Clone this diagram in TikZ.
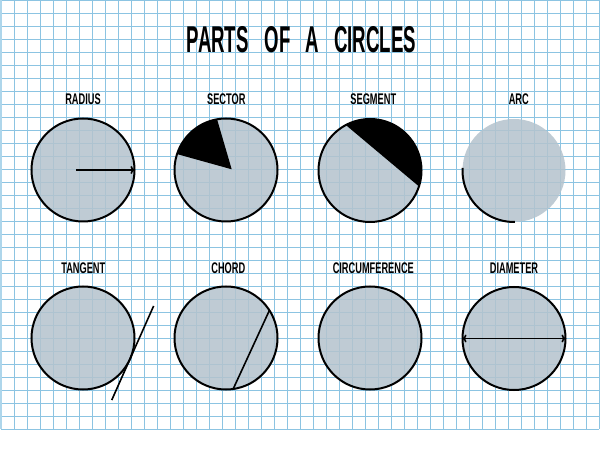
\documentclass[tikz,border=0pt]{standalone}
\usepackage{fontspec}
\newfontfamily\capsfont[FakeStretch=0.6]{Liberation Sans}
\newfontfamily\titlefont[FakeStretch=0.5]{Liberation Sans}
\usetikzlibrary{arrows.meta}
\definecolor{gridblue}{RGB}{140,196,226}
\definecolor{discgray}{RGB}{180,195,205}

\begin{document}
\begin{tikzpicture}[x=1pt,y=1pt,
    disc/.style={fill=discgray, fill opacity=0.85},
    rim/.style={draw=black, line width=2pt},
    pointer/.style={line width=1.6pt, -{To[length=4pt,width=8pt]}},
    tag/.style={inner sep=0pt, font=\capsfont\bfseries\fontsize{15.4}{16}\selectfont},
    headline/.style={inner sep=0pt, font=\titlefont\bfseries\fontsize{37.3}{40}\selectfont}]
  \useasboundingbox (0,0) rectangle (600,450);
  \fill[white] (0,0) rectangle (600,450);
  \draw[gridblue, line width=0.8pt, shift={(1,21)}] (0,0) grid[step=13] (598,429);
  \draw[gridblue!70, line width=2pt] (1,21) -- (1,450);

  % centres
  \coordinate (radc) at (83,280);
  \coordinate (secc) at (226,280);
  \coordinate (segc) at (370,279.5);
  \coordinate (arcc) at (514,279.5);
  \coordinate (tanc) at (83,112);
  \coordinate (chdc) at (226,112);
  \coordinate (circ) at (370,112);
  \coordinate (diac) at (514,111.5);

  \node[headline] (title) at (301.5,410) {PARTS\hspace{16pt}OF\hspace{15pt}A\hspace{15pt}CIRCLES};
  \node[tag] (radlabel) at (83,351.2) {RADIUS};
  \node[tag] (seclabel) at (226.3,351.2) {SECTOR};
  \node[tag] (seglabel) at (373.3,351.2) {SEGMENT};
  \node[tag] (arclabel) at (518.8,351.2) {ARC};
  \node[tag] (tanlabel) at (83.3,181.3) {TANGENT};
  \node[tag] (chdlabel) at (228.3,181.3) {CHORD};
  \node[tag] (cirlabel) at (373.3,181.3) {CIRCUMFERENCE};
  \node[tag] (dialabel) at (514,181.3) {DIAMETER};

  % radius
  \fill[disc] (radc) circle (51.5);
  \draw[rim] (radc) circle (51.5);
  \coordinate (radfrom) at ([shift={(-7,0)}]radc);
  \coordinate (radto) at ([shift={(0:51.5)}]radc);
  \draw[pointer] (radfrom) -- (radto);

  % sector
  \fill[disc] (secc) circle (51.5);
  \coordinate (secapex) at ([shift={(5.7,0.7)}]secc);
  \fill[black] (secapex) -- ([shift={(100:51.5)}]secc) arc[start angle=100, end angle=162, radius=51.5] -- cycle;
  \draw[rim] (secc) circle (51.5);

  % segment
  \fill[disc] (segc) circle (51.5);
  \fill[black] ([shift={(118:51.5)}]segc) arc[start angle=118, end angle=-18, radius=51.5] -- cycle;
  \draw[rim] (segc) circle (51.5);

  % arc
  \fill[disc] (arcc) circle (51.5);
  \draw[line width=2pt] ([shift={(177:51.5)}]arcc) arc[start angle=177, end angle=271, radius=51.5];

  % tangent
  \fill[disc] (tanc) circle (51.5);
  \draw[rim] (tanc) circle (51.5);
  \coordinate (tanp) at ([shift={(-24:51.5)}]tanc);
  \coordinate (tanlow) at ([shift={(246:45)}]tanp);
  \coordinate (tanhigh) at ([shift={(66:58)}]tanp);
  \draw[line width=1.6pt] (tanlow) -- (tanhigh);

  % chord
  \fill[disc] (chdc) circle (51.5);
  \draw[rim] (chdc) circle (51.5);
  \coordinate (chdlow) at ([shift={(-82:51.5)}]chdc);
  \coordinate (chdhigh) at ([shift={(32.5:51.5)}]chdc);
  \draw[line width=1.6pt] (chdlow) -- (chdhigh);

  % circumference
  \fill[disc] (circ) circle (51.5);
  \draw[rim] (circ) circle (51.5);

  % diameter
  \fill[disc] (diac) circle (51.5);
  \draw[rim] (diac) circle (51.5);
  \coordinate (diawest) at ([shift={(180:51.5)}]diac);
  \coordinate (diaeast) at ([shift={(0:51.5)}]diac);
  \draw[line width=1.6pt, {To[length=4pt,width=8pt]}-{To[length=4pt,width=8pt]}] (diawest) -- (diaeast);
\end{tikzpicture}
\end{document}
